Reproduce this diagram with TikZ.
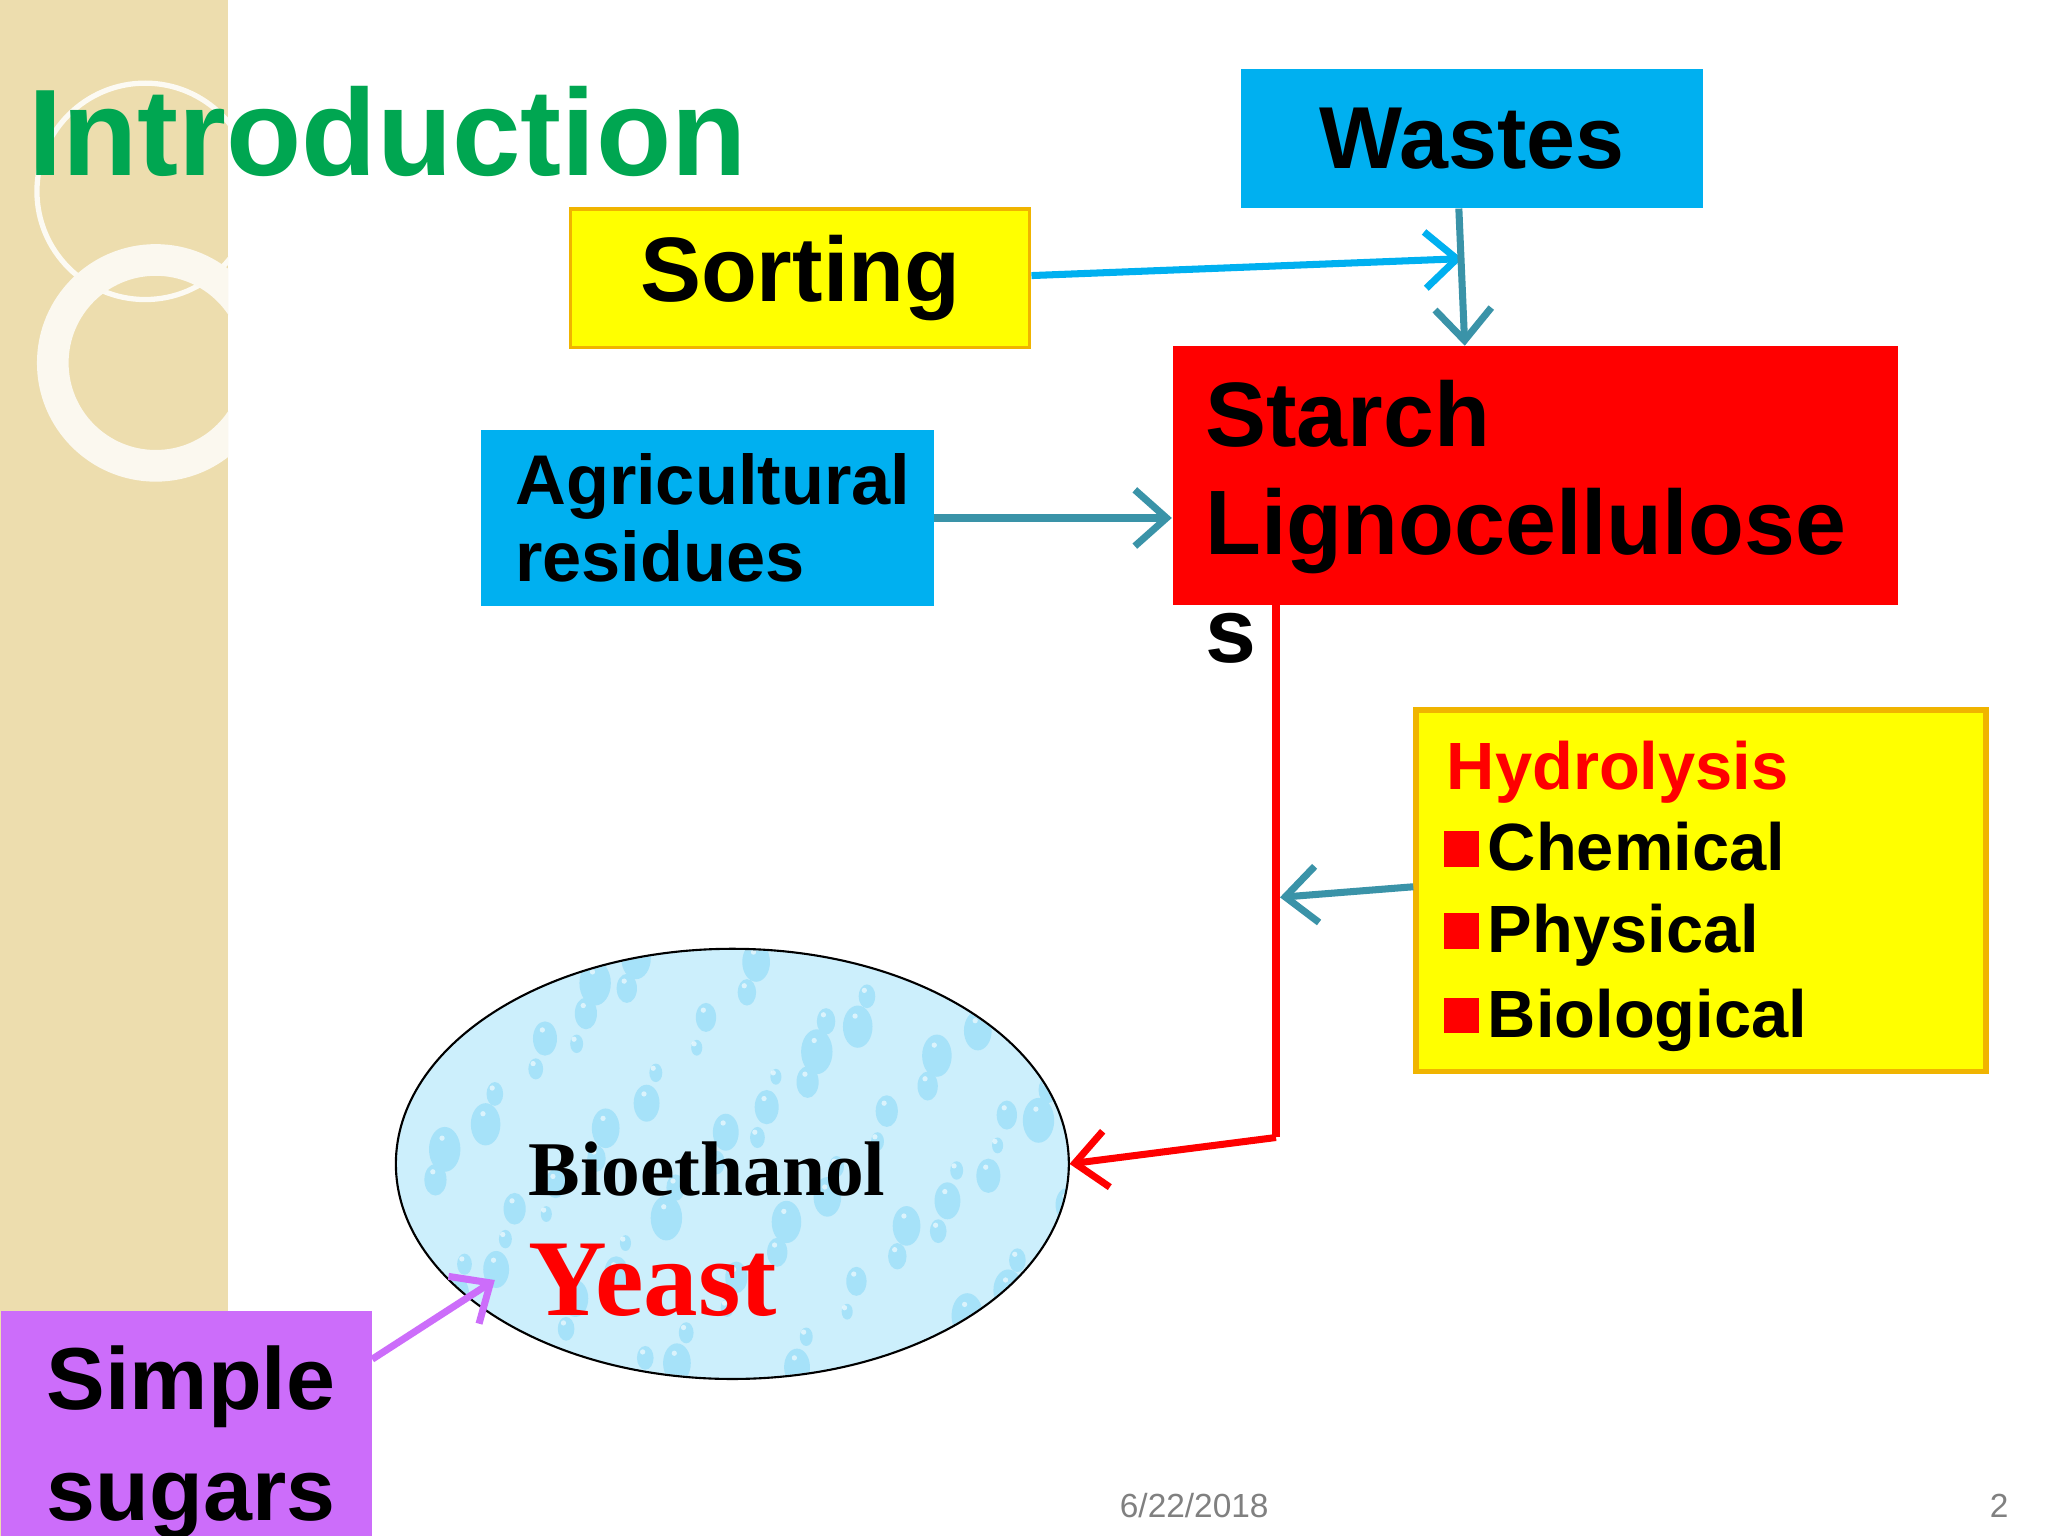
\documentclass[tikz,border=0pt]{standalone}
\usepackage{fontspec}
\setmainfont{Liberation Sans}
\newfontfamily\tnr{Liberation Serif}
\usetikzlibrary{arrows.meta,shapes.geometric}
\definecolor{cy}{HTML}{00B0F0}
\definecolor{tl}{HTML}{3A93A8}
\definecolor{yl}{HTML}{FFFF00}
\definecolor{orb}{HTML}{F0B400}
\definecolor{gr}{HTML}{00A651}
\definecolor{pu}{HTML}{CC6DFA}
\definecolor{bg}{HTML}{EDDDAE}
\tikzset{
 box/.style={inner sep=0pt,anchor=north west},
 arr/.style={line width=2pt,-{Straight Barb[length=9pt,width=16pt,line width=2pt]}},
 bt/.style={font=\bfseries\fontsize{#1}{#1}\selectfont}
}
\begin{document}
\begin{tikzpicture}[x=0.375pt,y=-0.375pt]
\useasboundingbox (0,0) rectangle (1552,1164);
\fill[white] (0,0) rectangle (1552,1164);
\fill[bg] (0,0) rectangle (173,1164);
\begin{scope}
\clip (0,0) rectangle (173,1164);
\draw[white!85!bg,line width=1.5pt] (110,145) circle (82);
\draw[white!80!bg,line width=9pt] (118,275) circle (78);
\end{scope}
\node[anchor=base west,text=gr,bt=35pt] (title) at (12,133) {Introduction};
% boxes
\node[box,fill=cy,minimum width=350*0.375pt,minimum height=105*0.375pt] (w) at (940,52) {};
\node[bt=25pt] at (w.center) {Wastes};
\node[box,fill=yl,draw=orb,line width=1pt,minimum width=348*0.375pt,minimum height=105*0.375pt] (s) at (431,157) {};
\node[bt=26pt] at (s.center) {Sorting};
\node[box,fill=red,minimum width=550*0.375pt,minimum height=196*0.375pt] (st) at (888,262) {};
\node[anchor=base west,bt=26pt] at (904,338) {Starch};
\node[anchor=base west,bt=26pt] at (904,420) {Lignocellulose};
\node[anchor=base west,bt=26pt] at (904,502) {s};
\node[box,fill=cy,minimum width=343*0.375pt,minimum height=134*0.375pt] (a) at (364,325) {};
\node[anchor=base west,bt=20pt] at (381,382) {Agricultural};
\node[anchor=base west,bt=20pt] at (381,441) {residues};
\node[box,fill=yl,draw=orb,line width=1.5pt,minimum width=432*0.375pt,minimum height=274*0.375pt] (h) at (1071,536) {};
\node[anchor=base west,bt=19pt,text=red] at (1087,598) {Hydrolysis};
\foreach \t/\yy in {Chemical/660,Physical/722,Biological/786}{
 \fill[red] (1094,\yy-30) rectangle (1121,\yy-3);
 \node[anchor=base west,bt=19pt] at (1118,\yy) {\t};
}
\node[ellipse,fill=cyan!20!white,minimum width=510*0.375pt,minimum height=326*0.375pt,inner sep=0] (e) at (555,882) {};
\begin{scope}
\clip (555,882) ellipse (254 and 162);
\foreach \i in {1,...,90}{
 \pgfmathsetmacro\px{300+mod(\i*137,510)}
 \pgfmathsetmacro\py{720+mod(\i*71,326)}
 \pgfmathsetmacro\r{6+mod(\i*13,12)}
 \fill[cyan!35!white] (\px,\py) ellipse (\r*0.7 and \r);
 \fill[white,opacity=0.6] (\px-2,\py-\r*0.5) circle (2);
}
\end{scope}
\draw[line width=0.6pt] (555,882) ellipse (255 and 163);
\node[anchor=base west,font=\tnr\bfseries\fontsize{22pt}{22pt}\selectfont] at (391,906) {Bioethanol};
\node[anchor=base west,font=\tnr\bfseries\fontsize{31pt}{31pt}\selectfont,text=red] at (391,997) {Yeast};
\node[box,fill=pu,minimum width=281*0.375pt,minimum height=183*0.375pt] (ss) at (0,993) {};
\node[anchor=base west,bt=25pt] at (26,1068) {Simple};
\node[anchor=base west,bt=25pt] at (26,1152) {sugars};
\node[anchor=base,text=gray,font=\fontsize{9.5pt}{9.5pt}\selectfont] at (905,1150) {6/22/2018};
\node[anchor=base,text=gray,font=\fontsize{9.5pt}{9.5pt}\selectfont] at (1515,1150) {2};
% connectors
\coordinate (sw) at (1108,196);
\coordinate (cor) at (967,862);
\coordinate (rl) at (970,680);
\draw[arr,cy] (s.east) ++(0,-2) -- (sw);
\draw[arr,tl] (w.south) ++(-10,0) -- (st.north -| 1110,0);
\draw[arr,tl] (a.east) -- (st.west |- a.east);
\draw[red,line width=2.2pt] (967,458) -- (cor);
\draw[arr,red] (cor) -- (e.east);
\draw[arr,tl] (h.west) ++(0,-3) -- (rl);
\draw[arr,pu] (ss.north east) ++(0,37) -- (375,970);
\end{tikzpicture}
\end{document}
